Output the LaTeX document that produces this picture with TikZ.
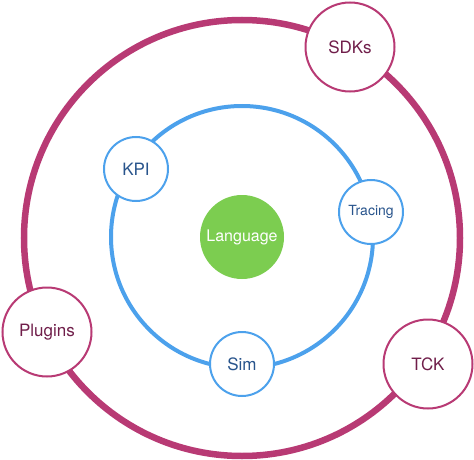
\documentclass[tikz,border=0pt]{standalone}
\usepackage{fontspec}
\setmainfont{TeX Gyre Heros}
\definecolor{ringred}{RGB}{184,58,116}
\definecolor{textred}{RGB}{112,30,74}
\definecolor{ringblue}{RGB}{76,161,236}
\definecolor{textblue}{RGB}{40,84,140}
\definecolor{langgreen}{RGB}{124,205,80}
\begin{document}
\begin{tikzpicture}[x=1pt,y=-1pt,
  outer/.style={circle,draw=ringred,line width=2pt,fill=white,text=textred,minimum size=89pt,inner sep=0pt,font=\fontsize{17}{19}\selectfont},
  inner/.style={circle,draw=ringblue,line width=2pt,fill=white,text=textblue,minimum size=64pt,inner sep=0pt,font=\fontsize{17}{19}\selectfont}]
  \useasboundingbox (0,0) rectangle (474,460);
  \draw[ringred,line width=6.5pt] (242,238) circle(218);
  \draw[ringblue,line width=4pt] (242,237) circle(131);
  \node[circle,fill=langgreen,text=white,minimum size=84pt,inner sep=0pt,font=\fontsize{16}{18}\selectfont] (lang) at (242,237){Language};
  \node[inner] (kpi) at (136,169){KPI};
  \node[inner,font=\fontsize{14}{16}\selectfont] (tracing) at (371,212){Tracing};
  \node[inner] (sim) at (242,364){Sim};
  \node[outer] (sdks) at (350,47){SDKs};
  \node[outer] (plugins) at (47,332){Plugins};
  \node[outer] (tck) at (428,364){TCK};
\end{tikzpicture}
\end{document}
